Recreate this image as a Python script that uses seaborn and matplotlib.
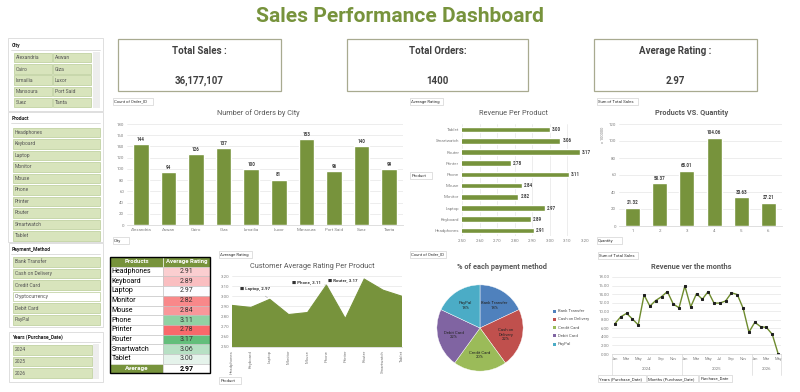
import numpy as np
import pandas as pd
import matplotlib
matplotlib.use('Agg')
import matplotlib.pyplot as plt
from matplotlib.patches import Rectangle
import seaborn as sns

W, H = 800, 392
GREEN = '#77933C'
TICK = '#7F7F7F'
DARK = '#404040'

# ---- data ----
cities = ['Alexandria', 'Aswan', 'Cairo', 'Giza', 'Ismailia', 'Luxor',
          'Mansoura', 'Port Said', 'Suez', 'Tanta']
city_orders = [144, 94, 126, 137, 100, 81, 153, 96, 140, 99]

products = ['Headphones', 'Keyboard', 'Laptop', 'Monitor', 'Mouse', 'Phone',
            'Printer', 'Router', 'Smartwatch', 'Tablet']
product_rating = [2.91, 2.89, 2.97, 2.82, 2.84, 3.11, 2.78, 3.17, 3.06, 3.00]
rating_avg = 2.97

quantities = ['1', '2', '3', '4', '5', '6']
quantity_sales = [21.32, 50.37, 65.01, 104.06, 33.63, 27.21]

pay_methods = ['Bank Transfer', 'Cash on Delivery', 'Credit Card', 'Debit Card', 'PayPal']
pay_share = [18, 22, 20, 22, 18]
pay_colors = ['#4F81BD', '#C0504D', '#9BBB59', '#8064A2', '#4BACC6']

month_names = ['Jan', 'Feb', 'Mar', 'Apr', 'May', 'Jun', 'Jul', 'Aug', 'Sep', 'Oct', 'Nov', 'Dec']
rev_years = [2024] * 12 + [2025] * 12 + [2026] * 5
rev_months = month_names * 2 + month_names[:5]
rev_values = [7.1, 8.7, 9.5, 8.2, 6.8, 13.8, 11.2, 12.5, 13.4, 14.6, 11.7, 10.8,
              15.9, 11.0, 14.1, 12.8, 14.6, 11.9, 11.9, 12.4, 14.3, 13.9, 10.7, 5.1,
              7.4, 6.4, 6.2, 4.6, 0.1]

kpi_titles = ['Total Sales :', 'Total Orders:', 'Average Rating :']
kpi_values = ['36,177,107', '1400', '2.97']

slicer_city = cities
slicer_payment = ['Bank Transfer', 'Cash on Delivery', 'Credit Card', 'Cryptocurrency',
                  'Debit Card', 'PayPal']
slicer_years = ['2024', '2025', '2026']

sns.set_theme(style='white')
plt.rcParams['font.family'] = ['Roboto', 'DejaVu Sans']

fig = plt.figure(figsize=(W / 100, H / 100), dpi=100)


def px_axes(x, y, w, h):
    return fig.add_axes([x / W, 1 - (y + h) / H, w / W, h / H])


# overlay in pixel coordinates for boxes, slicers, table
ov = fig.add_axes([0, 0, 1, 1])
ov.set_xlim(0, W)
ov.set_ylim(H, 0)
ov.axis('off')


def box(x, y, w, h, fc='white', ec='#D9D9D9', lw=0.6, z=1):
    ov.add_patch(Rectangle((x, y), w, h, facecolor=fc, edgecolor=ec, lw=lw, zorder=z))


def pt(px):
    return px * 0.72


def field_button(x, y, w, label):
    box(x, y, w, 7, ec='#C8C8C8', lw=0.4)
    ov.text(x + 1.2, y + 3.7, label, fontsize=pt(4.2), color='#333333', va='center')


# title
ov.text(400, 16, 'Sales Performance Dashboard', fontsize=pt(21), fontweight='bold',
        color=GREEN, ha='center', va='center')

# KPI cards
for (x0, x1), t, v in zip([(118, 281), (347, 528), (594, 757)], kpi_titles, kpi_values):
    box(x0, 39, x1 - x0, 52, ec='#A8AA90', lw=0.9)
    ov.text((x0 + x1) / 2, 51, t, fontsize=pt(9.8), fontweight='bold', color=DARK,
            ha='center', va='center')
    ov.text((x0 + x1) / 2, 80.5, v, fontsize=pt(9.8), fontweight='bold', color=DARK,
            ha='center', va='center')

# ---- slicers ----
BTN = '#D8E4BC'
BTN_EC = '#B9CC97'
fs_sl = pt(5)

box(8, 38, 95, 73)
ov.text(12, 45, 'City', fontsize=fs_sl, fontweight='bold', color='#222222', va='center')
ov.plot([11, 100], [50, 50], color='#D0D0D0', lw=0.5)
box(93, 52, 7, 56, fc='#EDEDED', ec='none')
for i, c in enumerate(slicer_city):
    col, row = i % 2, i // 2
    bx = 14 + col * 39
    by = 53 + row * 11.2
    box(bx, by, 38, 9.3, fc=BTN, ec=BTN_EC, lw=0.5)
    ov.text(bx + 2, by + 4.8, c, fontsize=fs_sl, color='#555555', va='center')

box(8, 112, 95, 130)
ov.text(12, 118, 'Product', fontsize=fs_sl, fontweight='bold', color='#222222', va='center')
ov.plot([11, 100], [123, 123], color='#D0D0D0', lw=0.5)
for i, p in enumerate(products):
    by = 127.5 + i * 11.5
    box(13, by, 87, 9.5, fc=BTN, ec=BTN_EC, lw=0.5)
    ov.text(15, by + 4.9, p, fontsize=fs_sl, color='#555555', va='center')

box(9, 243, 94, 84)
ov.text(12, 249, 'Payment_Method', fontsize=fs_sl, fontweight='bold', color='#222222', va='center')
ov.plot([11, 100], [254, 254], color='#D0D0D0', lw=0.5)
for i, p in enumerate(slicer_payment):
    by = 257 + i * 11.6
    fc = 'white' if p == 'Cryptocurrency' else BTN
    box(13, by, 87, 9.6, fc=fc, ec=BTN_EC, lw=0.5)
    ov.text(15, by + 4.9, p, fontsize=fs_sl, color='#555555', va='center')

box(9, 332, 94, 50)
ov.text(12, 337, 'Years (Purchase_Date)', fontsize=fs_sl, fontweight='bold', color='#222222', va='center')
ov.plot([11, 100], [342, 342], color='#D0D0D0', lw=0.5)
box(93, 344, 6, 35, fc='#EDEDED', ec='none')
for i, yv in enumerate(slicer_years):
    by = 345 + i * 11.6
    box(13, by, 79, 9.6, fc=BTN, ec=BTN_EC, lw=0.5)
    ov.text(15, by + 4.9, yv, fontsize=fs_sl, color='#555555', va='center')


def style_axes(ax, grid_axis='y'):
    sns.despine(ax=ax, left=True, top=True, right=True, bottom=False)
    ax.spines['bottom'].set_color('#D9D9D9')
    ax.spines['bottom'].set_linewidth(0.6)
    ax.tick_params(axis='both', length=0, labelsize=pt(4.4), labelcolor=TICK, pad=2)
    ax.grid(axis=grid_axis, color='#E6E6E6', lw=0.5)
    ax.set_axisbelow(True)
    ax.set_xlabel('')
    ax.set_ylabel('')


lab_fs = pt(4.5)
title_fs = pt(7.4)

# ---- Number of Orders by City ----
field_button(113, 98, 40, 'Count of Order_ID')
field_button(113, 237, 16, 'City')
ov.text(258, 113, 'Number of Orders by City', fontsize=title_fs, color='#595959',
        ha='center', va='center')
ax1 = px_axes(127, 124, 276, 101)
df_city = pd.DataFrame({'city': cities, 'orders': city_orders})
sns.barplot(data=df_city, x='city', y='orders', color=GREEN, saturation=1, width=0.57, ax=ax1)
ax1.set_ylim(0, 180)
ax1.set_yticks(range(0, 181, 20))
style_axes(ax1)
for i, v in enumerate(city_orders):
    ax1.text(i, v + 4, str(v), ha='center', va='bottom', fontsize=lab_fs, fontweight='bold', color=DARK)

# ---- Revenue Per Product (horizontal) ----
field_button(410, 98, 33, 'Average Rating')
field_button(410, 172, 22, 'Product')
ov.text(513, 113, 'Revenue Per Product', fontsize=title_fs, color='#595959', ha='center', va='center')
ax2 = px_axes(462, 124, 123, 112)
df_prod = pd.DataFrame({'product': products[::-1], 'rating': product_rating[::-1]})
sns.barplot(data=df_prod, y='product', x='rating', orient='h', color=GREEN, saturation=1,
            width=0.5, ax=ax2)
ax2.set_xlim(2.5, 3.2)
ax2.set_xticks(np.arange(2.5, 3.21, 0.1))
ax2.set_xticklabels([f'{v:.2f}' for v in np.arange(2.5, 3.21, 0.1)])
style_axes(ax2, grid_axis='x')
ax2.spines['bottom'].set_visible(False)
for i, v in enumerate(product_rating[::-1]):
    ax2.text(v + 0.012, i, f'{v:.2f}', va='center', ha='left', fontsize=lab_fs, fontweight='bold', color=DARK)

# ---- Products VS. Quantity ----
field_button(597, 98, 41, 'Sum of Total Sales')
field_button(597, 237, 25, 'Quantity')
ov.text(692, 113, 'Products VS. Quantity', fontsize=title_fs, fontweight='bold', color='#595959',
        ha='center', va='center')
ax3 = px_axes(619, 124, 163, 102)
df_q = pd.DataFrame({'qty': quantities, 'sales': quantity_sales})
sns.barplot(data=df_q, x='qty', y='sales', color=GREEN, saturation=1, width=0.55, ax=ax3)
ax3.set_ylim(0, 120)
ax3.set_yticks(range(0, 121, 20))
style_axes(ax3)
ov.text(603, 135, 'x 100000', fontsize=pt(4), color=TICK, rotation=90, ha='center', va='center')
for i, v in enumerate(quantity_sales):
    ax3.text(i, v + 3, f'{v:.2f}', ha='center', va='bottom', fontsize=lab_fs, fontweight='bold', color=DARK)

# ---- rating table with colour scale ----
lo, hi = min(product_rating), max(product_rating)
red, white, grn = np.array([248, 105, 107]) / 255, np.array([252, 252, 255]) / 255, np.array([99, 190, 123]) / 255


def scale_color(v):
    if v <= rating_avg:
        f = (rating_avg - v) / (rating_avg - lo)
        return white + (red - white) * f
    f = (v - rating_avg) / (hi - rating_avg)
    return white + (grn - white) * f


tx0, tx1, tcol = 110, 210, 163
ty0, rh = 257, 9.7
box(tx0, ty0, tcol - tx0, rh, fc=GREEN, ec='white', lw=0.4, z=2)
box(tcol, ty0, tx1 - tcol, rh, fc=GREEN, ec='white', lw=0.4, z=2)
ov.text((tx0 + tcol) / 2, ty0 + rh / 2, 'Products', color='white', fontweight='bold',
        fontsize=pt(6), ha='center', va='center', zorder=3)
ov.text((tcol + tx1) / 2, ty0 + rh / 2, 'Average Rating', color='white', fontweight='bold',
        fontsize=pt(6), ha='center', va='center', zorder=3)
for i, (p, v) in enumerate(zip(products, product_rating)):
    yy = ty0 + rh * (i + 1)
    box(tx0, yy, tcol - tx0, rh, fc='white', ec='#BFBFBF', lw=0.4, z=2)
    box(tcol, yy, tx1 - tcol, rh, fc=scale_color(v), ec='#BFBFBF', lw=0.4, z=2)
    ov.text(tx0 + 1.5, yy + rh / 2, p, fontsize=pt(7), color='black', va='center', zorder=3)
    ov.text((tcol + tx1) / 2, yy + rh / 2, f'{v:.2f}', fontsize=pt(7), color='#333333',
            ha='center', va='center', zorder=3)
yy = ty0 + rh * 11
box(tx0, yy, tcol - tx0, rh, fc=GREEN, ec='white', lw=0.4, z=2)
box(tcol, yy, tx1 - tcol, rh, fc='white', ec='#BFBFBF', lw=0.4, z=2)
ov.text((tx0 + tcol) / 2, yy + rh / 2, 'Average', color='white', fontweight='bold',
        fontsize=pt(6.3), ha='center', va='center', zorder=3)
ov.text((tcol + tx1) / 2, yy + rh / 2, f'{rating_avg:.2f}', color='black', fontweight='bold',
        fontsize=pt(7), ha='center', va='center', zorder=3)
ov.add_patch(Rectangle((tx0, ty0), tx1 - tx0, rh * 12, facecolor='none', edgecolor='black', lw=1.0, zorder=4))

# ---- Customer Average Rating Per Product (area) ----
field_button(219, 251, 33, 'Average Rating')
field_button(219, 377, 22, 'Product')
ov.text(312, 266, 'Customer Average Rating Per Product', fontsize=title_fs, color='#595959',
        ha='center', va='center')
ax4 = px_axes(232, 276, 170, 71)
xs = np.arange(len(products))
ax4.fill_between(xs, 2.5, product_rating, facecolor=GREEN, edgecolor='none', alpha=1, zorder=2)
sns.lineplot(x=xs, y=product_rating, color=GREEN, lw=0.8, ax=ax4, zorder=3)
ax4.set_xlim(0, len(products) - 1)
ax4.set_ylim(2.5, 3.2)
ax4.set_yticks(np.arange(2.5, 3.21, 0.1))
ax4.set_yticklabels([f'{v:.2f}' for v in np.arange(2.5, 3.21, 0.1)])
ax4.set_xticks(xs)
ax4.set_xticklabels(products, rotation=90)
style_axes(ax4)
ax4.tick_params(axis='x', labelsize=pt(4.2))
for name, tx, ty in [('Laptop', 0.45, 3.07), ('Phone', 3.2, 3.13), ('Router', 5.1, 3.15)]:
    k = products.index(name)
    v = product_rating[k]
    ax4.annotate(f'■ {name}, {v:.2f}', xy=(k, v), xytext=(tx, ty), fontsize=pt(4.4),
                 fontweight='bold', color='#333333', va='center', zorder=5,
                 arrowprops=dict(arrowstyle='-', color='#A6A6A6', lw=0.4))

# ---- % of each payment method ----
field_button(410, 251, 36, 'Count of Order_ID')
ov.text(502, 267, '% of each payment method', fontsize=title_fs, fontweight='bold', color='#595959',
        ha='center', va='center')
ax5 = px_axes(436, 284, 88, 88)
wedges, _ = ax5.pie(pay_share, colors=pay_colors, startangle=90, counterclock=False,
                    wedgeprops=dict(edgecolor='white', lw=0.3))
ax5.set_xlim(-1.02, 1.02)
ax5.set_ylim(-1.02, 1.02)
ax5.set_aspect('equal')
pie_text = ['Bank Transfer', 'Cash on\nDelivery', 'Credit Card', 'Debit Card', 'PayPal']
for w, t, s in zip(wedges, pie_text, pay_share):
    ang = np.deg2rad((w.theta1 + w.theta2) / 2)
    ax5.text(0.62 * np.cos(ang), 0.62 * np.sin(ang), f'{t}\n{s}%', ha='center', va='center',
             fontsize=pt(4.3), color='#262626', linespacing=1.1)
for i, (m, c) in enumerate(zip(pay_methods, pay_colors)):
    yy = 311 + i * 8.3
    ov.add_patch(Rectangle((553, yy - 1.5), 3, 3, facecolor=c, edgecolor='none'))
    ov.text(558, yy, m, fontsize=pt(4.3), color='#595959', va='center')

# ---- Revenue ver the months ----
field_button(598, 252, 40, 'Sum of Total Sales')
field_button(598, 375, 48, 'Years (Purchase_Date)')
field_button(647, 375, 51, 'Months (Purchase_Date)')
field_button(699, 375, 33, 'Purchase_Date')
ov.text(691, 267, 'Revenue ver the months', fontsize=title_fs, fontweight='bold', color='#595959',
        ha='center', va='center')
ax6 = px_axes(612, 277, 169, 77)
mx = np.arange(len(rev_values))
sns.lineplot(x=mx, y=rev_values, color='#6E8B2E', lw=1.0, marker='s', markersize=1.7,
             markerfacecolor='#1F1F1F', markeredgecolor='#1F1F1F', ax=ax6)
ax6.set_xlim(-0.5, len(rev_values) - 0.5)
ax6.set_ylim(0, 18)
ax6.set_yticks(range(0, 19, 2))
ax6.set_yticklabels([f'{v:.2f}' for v in range(0, 19, 2)])
ax6.set_xticks(mx[::2])
ax6.set_xticklabels([rev_months[i] for i in mx[::2]])
style_axes(ax6)
ax6.tick_params(axis='x', labelsize=pt(4.0))
yrs = pd.Series(rev_years)
bounds = [-0.5]
for yv in sorted(set(rev_years)):
    idx = np.where(yrs == yv)[0]
    ax6.text(idx.mean(), -0.19, str(yv), transform=ax6.get_xaxis_transform(), ha='center',
             va='center', fontsize=pt(4.2), color=TICK)
    bounds.append(idx.max() + 0.5)
for b in bounds:
    ax6.plot([b, b], [0, -0.27], transform=ax6.get_xaxis_transform(), color='#D9D9D9',
             lw=0.5, clip_on=False)

fig.savefig('out.png', dpi=100)
